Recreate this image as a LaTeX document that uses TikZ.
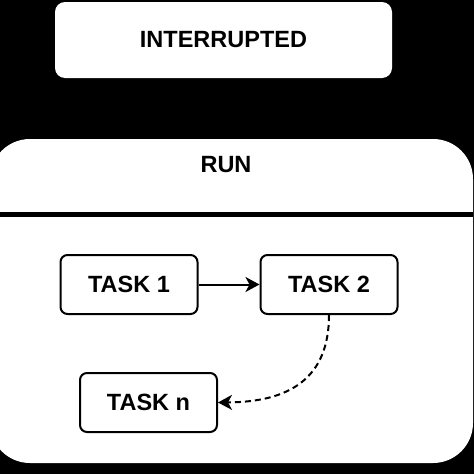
\documentclass[tikz,border=0pt]{standalone}
\usepackage{fontspec}
\setmainfont{Liberation Sans}
\usetikzlibrary{arrows.meta}
\begin{document}
\begin{tikzpicture}[x=1pt,y=-1pt,
  lbl/.style={font=\fontsize{23.5}{28}\selectfont\bfseries},
  taskbox/.style={draw=black, line width=2pt, fill=white, rounded corners=7pt,
    minimum width=137pt, minimum height=59pt, inner sep=0pt, lbl},
  conn/.style={line width=2pt, -{Stealth[length=14pt,width=15pt,inset=4pt]}},
]
\useasboundingbox (0,0) rectangle (474,474);
\fill[black] (0,0) rectangle (474,474);
\node[fill=white, rounded corners=10pt, minimum width=337pt, minimum height=76pt,
  inner sep=0pt, lbl] (intr) at (223.5,40) {INTERRUPTED};
\node[fill=white, rounded corners=40pt, minimum width=483pt, minimum height=324pt,
  inner sep=0pt] (run) at (231.5,301) {};
\node[lbl] (runlbl) at (226,164.5) {RUN};
\coordinate (sepL) at (0,214);
\coordinate (sepR) at (473,214);
\draw[line width=5pt] (sepL) -- (sepR);
\node[taskbox] (t1) at (129,284.5) {TASK 1};
\node[taskbox] (t2) at (329,284.5) {TASK 2};
\node[taskbox] (tn) at (148.5,402.5) {TASK n};
\draw[conn] (t1) -- (t2);
\draw[conn, dash pattern=on 6pt off 4pt] (t2.south) .. controls (329,378) and (290,402) .. (tn.east);
\end{tikzpicture}
\end{document}
